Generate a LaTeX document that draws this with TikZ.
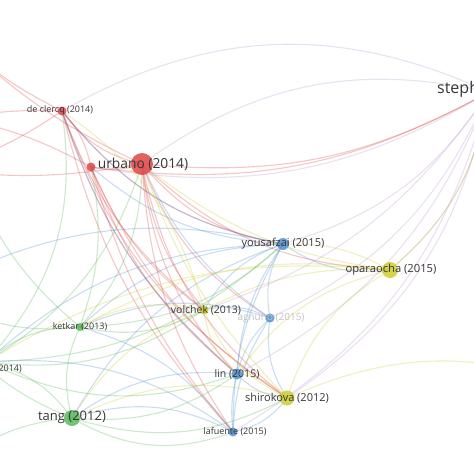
\documentclass[tikz,border=0pt]{standalone}
\usepackage{fontspec}
\setmainfont{Open Sans}
\definecolor{cred}{RGB}{222,70,70}
\definecolor{cblue}{RGB}{80,145,210}
\definecolor{cyel}{RGB}{205,205,50}
\definecolor{cgreen}{RGB}{90,185,90}
\definecolor{cpurp}{RGB}{190,155,212}
\definecolor{ctext}{RGB}{55,55,55}
\begin{document}
\begin{tikzpicture}[x=1pt,y=-1pt,
  edge/.style={line width=1.1pt, opacity=0.3},
  vnode/.style={circle, inner sep=0pt, minimum size=#1},
  lbl/.style={text=ctext, inner sep=0pt}]
\useasboundingbox (0,0) rectangle (474,474);
\clip (0,0) rectangle (474,474);
\fill[white] (0,0) rectangle (474,474);
% positions
\coordinate (st) at (489,92);
\coordinate (dc) at (62,111);
\coordinate (r2) at (91,167);
\coordinate (ur) at (142,164);
\coordinate (yo) at (283,244);
\coordinate (op) at (390,270);
\coordinate (vo) at (204,310);
\coordinate (ag) at (270,318);
\coordinate (ke) at (80,327);
\coordinate (lf) at (-14,362);
\coordinate (tg) at (72,418);
\coordinate (li) at (237,374);
\coordinate (sh) at (287,398);
\coordinate (la) at (233,432);
\coordinate (o1) at (-60,20);
\coordinate (o2) at (-60,170);
\coordinate (o4) at (560,200);
\coordinate (o5) at (560,380);
\coordinate (o6) at (-70,290);
\coordinate (o7) at (-60,480);
\coordinate (o8) at (-40,118);
% edges
\foreach \a/\b/\c/\bd in {
  ur/dc/cred/20, ur/r2/cred/15, dc/r2/cred/15, ur/st/cred/-17, r2/st/cred/-18,
  st/dc/cpurp/-27, st/ur/cpurp/-24,
  ur/yo/cred/-20, ur/vo/cred/-15, ur/li/cred/-18, ur/ag/cred/-18, ur/sh/cred/-20,
  ur/la/cred/-15, ur/op/cred/-20, r2/vo/cred/-15, r2/li/cred/-15, r2/la/cred/-12,
  dc/vo/cred/-15, dc/li/cred/-15, dc/sh/cred/-18, dc/yo/cred/-20, dc/o8/cred/-6,
  ur/o2/cred/8, dc/o2/cred/8, r2/o8/cred/-8, o1/ur/cred/-10, o1/dc/cred/-10,
  dc/la/cred/-14, r2/sh/cred/-16,
  yo/ag/cblue/-20, yo/li/cblue/-15, yo/la/cblue/-15, ag/li/cblue/-15, ag/la/cblue/-15,
  li/la/cblue/-10, yo/vo/cblue/-20, yo/ke/cblue/-20, yo/lf/cblue/-20, yo/tg/cblue/-20,
  ag/vo/cblue/-20, ag/sh/cblue/-20, li/sh/cblue/-20, la/sh/cblue/-20, yo/op/cblue/-20,
  li/tg/cblue/-20, la/tg/cblue/-22, ag/ke/cblue/-20, la/lf/cblue/-20, yo/o6/cblue/-20,
  yo/dc/cblue/20, ag/ur/cblue/15, li/dc/cblue/15, yo/r2/cblue/18, la/ke/cblue/-18,
  st/yo/cpurp/20, st/ag/cpurp/20, st/li/cpurp/20, st/la/cpurp/22, st/sh/cpurp/22,
  st/r2/cpurp/20, st/o4/cpurp/20, st/o5/cpurp/20,
  st/op/cpurp/20, st/vo/cpurp/18,
  op/yo/cyel/-15, op/vo/cyel/-15, op/sh/cyel/-20, op/li/cyel/-20, op/ke/cyel/-18,
  op/lf/cyel/-18, vo/sh/cyel/-20, vo/li/cyel/-20, sh/li/cyel/-20, sh/tg/cyel/-20,
  vo/ke/cyel/-20, op/st/cyel/-20, sh/o5/cyel/20, vo/dc/cyel/-20, op/ur/cyel/15,
  sh/ur/cyel/12, vo/tg/cyel/-18,
  ke/lf/cgreen/-20, ke/tg/cgreen/-20, tg/lf/cgreen/-20, ke/vo/cgreen/-20, ke/ur/cgreen/-20,
  lf/ur/cgreen/-20, lf/dc/cgreen/-25, tg/li/cgreen/-20, tg/sh/cgreen/-22, ke/yo/cgreen/-20,
  lf/yo/cgreen/-20, o6/ke/cgreen/-20, lf/vo/cgreen/-20, tg/o7/cgreen/-20, tg/la/cgreen/-25,
  o6/tg/cgreen/-20, o8/ke/cgreen/-20, lf/li/cgreen/-22, ke/r2/cgreen/-15}
  \draw[edge,\c] (\a) to[bend left=\bd] (\b);
% nodes
\node[vnode=22pt, fill=cred, opacity=0.85] (nur) at (ur) {};
\node[vnode=9pt, fill=cred, opacity=0.85] (nr2) at (r2) {};
\node[vnode=9pt, fill=cred, opacity=0.85] (ndc) at (dc) {};
\node[vnode=12pt, fill=cblue, opacity=0.85] (nyo) at (yo) {};
\node[vnode=9pt, fill=cblue, opacity=0.85] (nag) at (ag) {};
\node[vnode=11pt, fill=cblue, opacity=0.85] (nli) at (li) {};
\node[vnode=9pt, fill=cblue, opacity=0.85] (nla) at (la) {};
\node[vnode=16pt, fill=cyel, opacity=0.85] (nop) at (op) {};
\node[vnode=15pt, fill=cyel, opacity=0.85] (nsh) at (sh) {};
\node[vnode=9pt, fill=cyel, opacity=0.85] (nvo) at (vo) {};
\node[vnode=8pt, fill=cgreen, opacity=0.85] (nke) at (ke) {};
\node[vnode=16pt, fill=cgreen, opacity=0.85] (ntg) at (tg) {};
\node[vnode=10pt, fill=cgreen, opacity=0.85] (nlf) at (lf) {};
% labels
\node[lbl, font=\fontsize{16}{18}\selectfont, anchor=west] (tst) at (437,89) {stephan};
\node[lbl, font=\fontsize{13.8}{15}\selectfont] (tur) at (143,164) {urbano (2014)};
\node[lbl, font=\fontsize{9}{10}\selectfont] (tdc) at (60,110) {de clercq (2014)};
\node[lbl, font=\fontsize{11}{12}\selectfont] (tyo) at (yo) {yousafzai (2015)};
\node[lbl, font=\fontsize{11.2}{12}\selectfont] (top) at (391,270) {oparaocha (2015)};
\node[lbl, font=\fontsize{10.5}{12}\selectfont] (tvo) at (206,310) {volchek (2013)};
\node[lbl, font=\fontsize{10}{12}\selectfont, text=ctext!30] (tag) at (271,318) {agnuno (2015)};
\node[lbl, font=\fontsize{9}{10}\selectfont] (tke) at (80,327) {ketkar (2013)};
\node[lbl, font=\fontsize{9}{10}\selectfont, anchor=east] (tlf) at (22,369) {(2014)};
\node[lbl, font=\fontsize{13}{15}\selectfont] (ttg) at (72,417) {tang (2012)};
\node[lbl, font=\fontsize{10.5}{12}\selectfont] (tli) at (237,374) {lin (2015)};
\node[lbl, font=\fontsize{11}{12}\selectfont] (tsh) at (287,398) {shirokova (2012)};
\node[lbl, font=\fontsize{9}{10}\selectfont] (tla) at (235,432) {lafuente (2015)};
\end{tikzpicture}
\end{document}
